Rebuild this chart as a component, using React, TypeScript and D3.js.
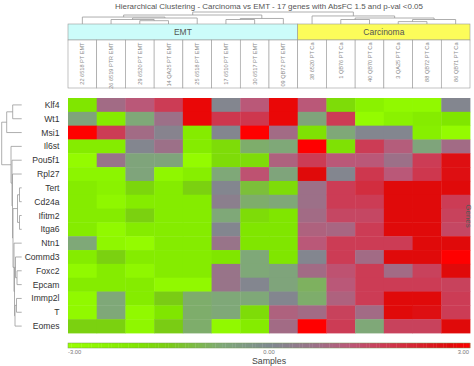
import React from 'react';
import * as d3 from 'd3';

const title = 'Hierarchical Clustering - Carcinoma vs EMT - 17 genes with AbsFC 1.5 and p-val <0.05';

const genes = ['Klf4', 'Wt1', 'Msi1', 'Il6st', 'Pou5f1', 'Rpl27', 'Tert', 'Cd24a', 'Ifitm2', 'Itga6', 'Ntn1', 'Commd3', 'Foxc2', 'Epcam', 'Immp2l', 'T', 'Eomes'];

const samples = [
  '22 6518 PT EMT', '26 6519 PTR EMT', '29 6520 PT EMT', '14 QA25 PT EMT', '25 6518 PT EMT', '17 6510 PT EMT', '30 6517 PT EMT', '09 QB72 PT EMT',
  '38 6520 PT Ca', '1 QB76 PT Ca', '40 QB70 PT Ca', '3 QA25 PT Ca', '88 QB72 PT Ca', '86 QB71 PT Ca',
];

const groups = ['EMT', 'Carcinoma'];
const groupSizes = [8, 6];

// expression values (rows = genes, columns = samples)
const values: number[][] = [
  [-2.0, 0.8, 1.2, 1.7, 2.8, 0.1, 1.2, 2.8, 1.2, -1.8, -2.4, -2.7, -2.7, 0.1],
  [-0.6, -2.2, -0.7, 0.7, 2.8, 1.8, 1.8, 2.8, -0.6, 1.7, -2.8, -2.4, -2.2, -2.0],
  [3.0, 1.7, 0.8, 0.2, -2.2, 0.1, 3.0, 0.8, -1.9, -0.7, 0.1, 0.1, -2.3, -2.8],
  [-2.2, -2.2, 0.1, 0.7, -2.2, -1.8, -0.8, -0.7, 3.0, -1.9, 1.7, 1.1, -0.6, 0.8],
  [-2.8, 0.6, -0.6, -0.6, -2.8, -1.8, -1.8, 1.0, 1.7, 1.2, 1.2, 0.7, 1.7, 2.6],
  [-2.5, -2.5, -0.6, -2.6, -2.3, -0.7, 1.3, -0.6, 2.7, 0.1, 1.8, 1.2, 1.8, 2.6],
  [-2.2, -2.4, -1.7, -2.2, -1.6, 0.1, -1.2, -1.8, 0.7, 1.7, 2.0, 2.7, 2.7, 2.7],
  [-2.2, -2.6, -2.2, -2.2, -2.2, 0.3, -0.8, -0.7, 0.7, 1.7, 1.7, 2.7, 2.7, 1.7],
  [-2.2, -2.2, -1.6, -2.2, -2.2, -0.7, -1.8, -2.0, 0.8, 1.5, 1.5, 2.7, 2.7, 1.6],
  [-2.2, -2.7, -2.2, -2.2, -2.2, 0.1, -2.0, -2.0, 1.0, 0.9, 1.7, 2.7, 2.7, 1.5],
  [-0.7, -2.6, -2.8, -2.2, -2.2, 0.6, -2.0, -2.0, 1.2, 1.7, 1.7, 1.7, 2.7, 2.7],
  [-2.2, -1.6, -2.2, -2.2, -2.2, -2.0, -0.7, -2.0, 0.1, 1.7, 0.8, 2.7, 2.7, 3.0],
  [-2.7, -2.2, -2.6, -2.2, -2.2, 0.6, -0.7, -0.6, 0.8, 1.3, 1.7, 0.8, 1.6, 2.7],
  [-2.2, -2.2, -2.2, -2.7, -2.7, 0.6, 0.1, -0.6, -0.9, 1.2, 1.7, 1.7, 1.7, 1.6],
  [-2.7, -0.7, -2.2, -1.5, -0.8, -0.7, -0.7, 0.1, -0.8, 1.0, 1.7, 2.7, 2.7, 1.7],
  [-2.7, -0.7, -2.7, -2.0, -0.8, -0.7, -1.8, 1.0, 0.8, 1.6, 0.8, 2.7, 2.6, 1.7],
  [-1.6, -1.6, -2.6, -1.5, -0.8, -2.7, -2.2, 0.8, 3.0, 1.7, -0.7, 1.6, 1.6, 2.7],
];

const legendTicks = [-3, 0, 3];

type TreeNode = number | { d: number; c: [TreeNode, TreeNode] };

// column dendrogram (leaf = sample index, d = merge distance 0..1)
const colTree: TreeNode = {
  d: 1,
  c: [
    {
      d: 0.75,
      c: [
        { d: 0.58, c: [0, { d: 0.5, c: [{ d: 0.375, c: [1, { d: 0.275, c: [2, 3] }] }, 4] }] },
        { d: 0.46, c: [{ d: 0.375, c: [5, 6] }, 7] },
      ],
    },
    {
      d: 0.67,
      c: [8, { d: 0.5, c: [{ d: 0.375, c: [9, 10] }, { d: 0.375, c: [{ d: 0.2, c: [11, 12] }, 13] }] }],
    },
  ],
};

// row dendrogram (leaf = gene index)
const rowTree: TreeNode = {
  d: 1,
  c: [
    { d: 0.75, c: [{ d: 0.45, c: [0, 1] }, 2] },
    {
      d: 0.535,
      c: [3, {
        d: 0.485,
        c: [4, {
          d: 0.46,
          c: [5, {
            d: 0.435,
            c: [
              { d: 0.21, c: [{ d: 0.11, c: [6, 7] }, { d: 0.11, c: [8, 9] }] },
              {
                d: 0.385,
                c: [10, {
                  d: 0.36,
                  c: [
                    { d: 0.31, c: [11, { d: 0.235, c: [12, 13] }] },
                    { d: 0.335, c: [{ d: 0.26, c: [14, 15] }, 16] },
                  ],
                }],
              },
            ],
          }],
        }],
      }],
    },
  ],
};

const W = 474;
const H = 366;
const font = '"Liberation Sans", Arial, sans-serif';

type Seg = { a1: number; b1: number; a2: number; b2: number };

function layoutTree(node: TreeNode, leafPos: (i: number) => number, distPos: (d: number) => number, segs: Seg[]): { a: number; b: number } {
  if (typeof node === 'number') return { a: leafPos(node), b: distPos(0) };
  const l = layoutTree(node.c[0], leafPos, distPos, segs);
  const r = layoutTree(node.c[1], leafPos, distPos, segs);
  const b = distPos(node.d);
  segs.push({ a1: l.a, b1: b, a2: r.a, b2: b });
  segs.push({ a1: l.a, b1: b, a2: l.a, b2: l.b });
  segs.push({ a1: r.a, b1: b, a2: r.a, b2: r.b });
  return { a: (l.a + r.a) / 2, b };
}

export default function App() {
  const x = d3.scaleBand<string>().domain(samples).range([68, 470]);
  const y = d3.scaleBand<string>().domain(genes).range([98, 333]);
  const color = d3
    .scaleLinear<string>()
    .domain([-3, -2.5, -2, -1.5, -0.7, 0, 0.7, 1.2, 1.7, 2.7, 3])
    .range(['#99ff00', '#8cf500', '#80e600', '#7acc14', '#7fa878', '#7f8a90', '#9c7088', '#ba5878', '#cc3c55', '#e00a0a', '#ff0000'])
    .clamp(true);

  const bw = x.bandwidth();
  const bh = y.bandwidth();

  const colSegs: Seg[] = [];
  layoutTree(colTree, (i) => (x(samples[i]) as number) + bw / 2, d3.scaleLinear().domain([0, 1]).range([24, 12]), colSegs);
  const rowSegs: Seg[] = [];
  layoutTree(rowTree, (i) => (y(genes[i]) as number) + bh / 2, d3.scaleLinear().domain([0, 1]).range([21.7, 1.7]), rowSegs);

  const groupStarts = groupSizes.map((_, i) => d3.sum(groupSizes.slice(0, i)));
  const groupFill = ['#ccfcfa', '#fcfc5a'];

  const legX = d3.scaleLinear().domain([-3, 3]).range([68, 470]);
  const legSteps = d3.range(0, 120);

  return (
    <svg width={W} height={H} style={{ position: 'absolute', left: 0, top: 0, background: '#fff' }} fontFamily={font}>
      <rect x={0} y={0} width={W} height={H} fill="#fff" />
      <text x={269} y={8.5} fontSize={7.2} fill="#555" textAnchor="middle" textLength={308} lengthAdjust="spacingAndGlyphs">
        {title}
      </text>

      {/* column dendrogram */}
      <g stroke="#999" strokeWidth={0.8} fill="none">
        {colSegs.map((s, i) => (
          <line key={i} x1={s.a1} y1={s.b1} x2={s.a2} y2={s.b2} />
        ))}
      </g>

      {/* group header */}
      {groups.map((g, i) => {
        const x0 = x(samples[groupStarts[i]]) as number;
        const x1 = (x(samples[groupStarts[i] + groupSizes[i] - 1]) as number) + bw;
        return (
          <g key={g}>
            <rect x={x0} y={24} width={x1 - x0} height={16} fill={groupFill[i]} stroke="#999" strokeWidth={0.6} />
            <text x={(x0 + x1) / 2} y={35.2} fontSize={8.5} fill="#555" textAnchor="middle">
              {g}
            </text>
          </g>
        );
      })}

      {/* sample label boxes */}
      {samples.map((s) => {
        const sx = x(s) as number;
        return (
          <g key={s}>
            <rect x={sx} y={40} width={bw} height={48} fill="#fff" stroke="#999" strokeWidth={0.6} />
            <text
              transform={`translate(${sx + bw / 2 + 2},${42.5}) rotate(-90)`}
              fontSize={5.6}
              fill="#888"
              textAnchor="end"
            >
              {s}
            </text>
          </g>
        );
      })}

      {/* heatmap */}
      <g>
        {values.map((row, ri) =>
          row.map((v, ci) => (
            <rect
              key={`${ri}-${ci}`}
              x={x(samples[ci]) as number}
              y={y(genes[ri]) as number}
              width={bw + 0.4}
              height={bh + 0.4}
              fill={color(v)}
            />
          ))
        )}
      </g>

      {/* row dendrogram */}
      <g stroke="#999" strokeWidth={0.8} fill="none">
        {rowSegs.map((s, i) => (
          <line key={i} x1={s.b1} y1={s.a1} x2={s.b2} y2={s.a2} />
        ))}
      </g>

      {/* gene labels */}
      {genes.map((g) => (
        <text key={g} x={59.5} y={(y(g) as number) + bh / 2 + 3} fontSize={8.6} fill="#333" textAnchor="end">
          {g}
        </text>
      ))}

      <text transform="translate(466,216) rotate(90)" fontSize={8} fill="#555" textAnchor="middle">
        Genes
      </text>

      {/* legend */}
      <g>
        {legSteps.map((i) => {
          const v0 = -3 + (6 * i) / legSteps.length;
          const v1 = -3 + (6 * (i + 1)) / legSteps.length;
          return (
            <rect key={i} x={legX(v0)} y={343} width={legX(v1) - legX(v0) + 0.3} height={5} fill={color((v0 + v1) / 2)} />
          );
        })}
        <rect x={68} y={343} width={402} height={5} fill="none" stroke="#7a9a5a" strokeWidth={0.5} />
        {legendTicks.map((t, i) => (
          <text
            key={t}
            x={i === 0 ? 68 : i === legendTicks.length - 1 ? 469 : legX(t)}
            y={354}
            fontSize={5.8}
            fill="#777"
            textAnchor={i === 0 ? 'start' : i === legendTicks.length - 1 ? 'end' : 'middle'}
          >
            {t.toFixed(2)}
          </text>
        ))}
        <text x={269} y={364} fontSize={8.8} fill="#444" textAnchor="middle">
          Samples
        </text>
      </g>
    </svg>
  );
}
